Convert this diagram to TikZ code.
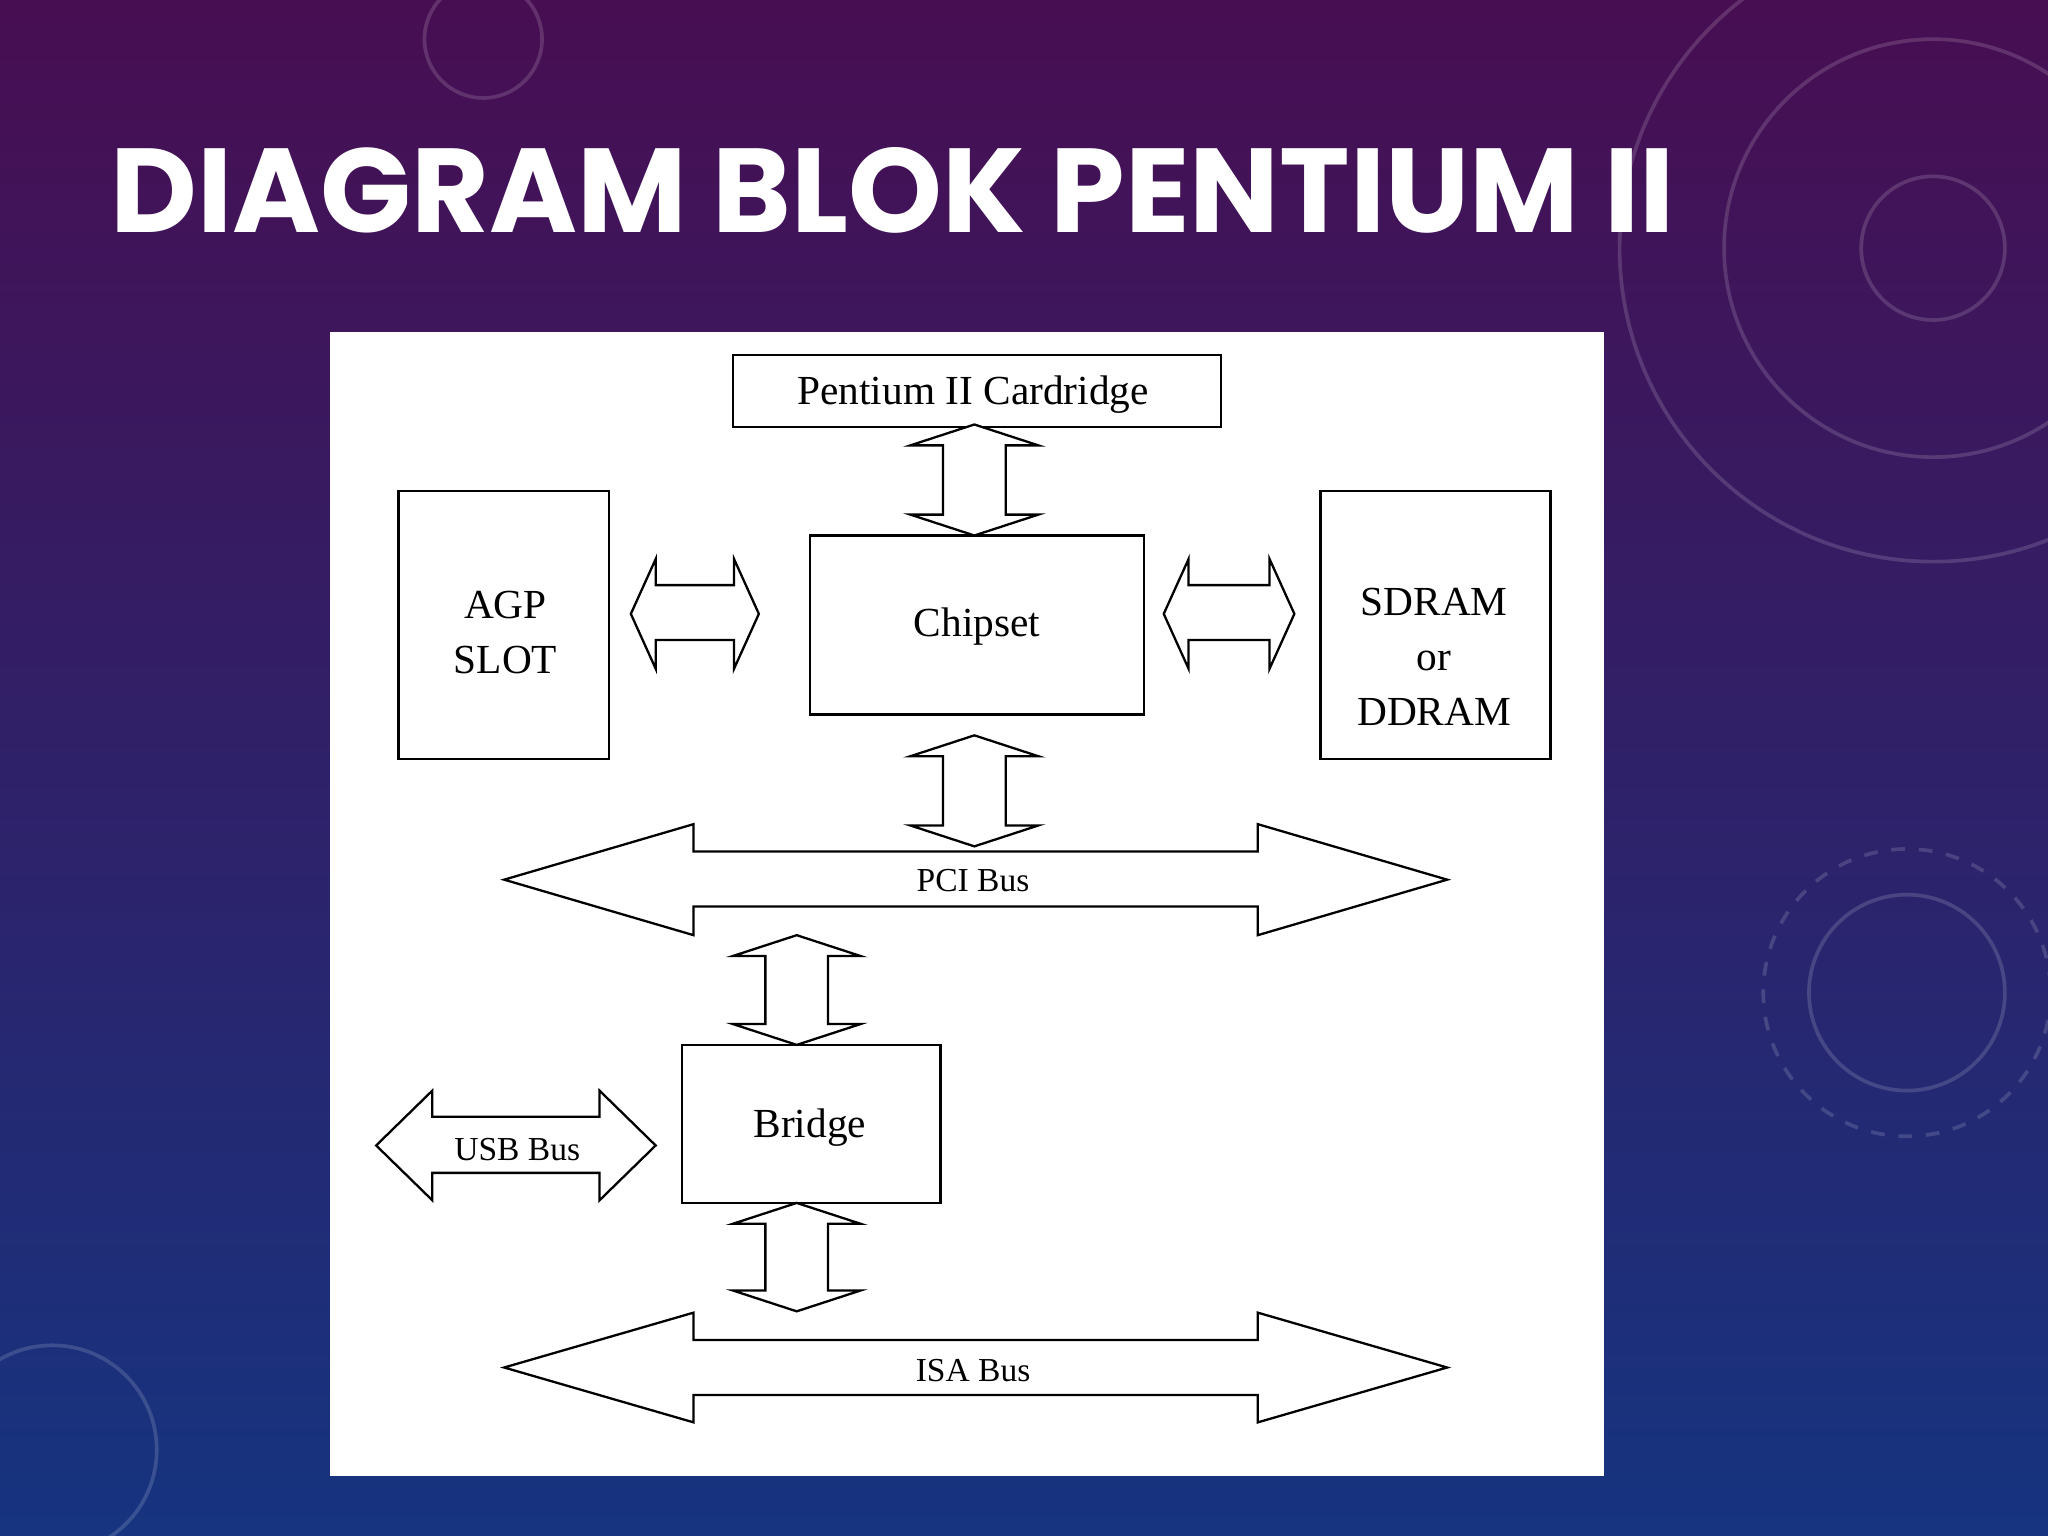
\documentclass[tikz,border=0pt]{standalone}
\usepackage{fontspec}
\setmainfont{Liberation Serif}
\newfontfamily\titlefont{Poppins}
\begin{document}
\newcommand{\dblH}[8]{% name,x1,x2,ytop,ybot,s1,s2,h
 \draw[arr] (#2,{(#4+#5)/2}) -- (#2+#8,#4) -- (#2+#8,#6) -- (#3-#8,#6) -- (#3-#8,#4) -- (#3,{(#4+#5)/2}) -- (#3-#8,#5) -- (#3-#8,#7) -- (#2+#8,#7) -- (#2+#8,#5) -- cycle;
 \coordinate (#1) at ({(#2+#3)/2},{(#4+#5)/2});}
\newcommand{\dblV}[8]{% name,y1,y2,xl,xr,s1,s2,h
 \draw[arr] ({(#4+#5)/2},#2) -- (#4,#2+#8) -- (#6,#2+#8) -- (#6,#3-#8) -- (#4,#3-#8) -- ({(#4+#5)/2},#3) -- (#5,#3-#8) -- (#7,#3-#8) -- (#7,#2+#8) -- (#5,#2+#8) -- cycle;
 \coordinate (#1) at ({(#4+#5)/2},{(#2+#3)/2});}
\begin{tikzpicture}[x=0.01cm,y=-0.01cm,
 boxt/.style={align=center,font=\fontsize{9}{12}\selectfont},
 arr/.style={draw,line width=0.5pt,fill=white,line join=miter},
 lbl/.style={font=\fontsize{7.3}{9}\selectfont}]
\useasboundingbox (0,0) rectangle (1568,1176);
\shade[top color={rgb,255:red,72;green,14;blue,82}, bottom color={rgb,255:red,22;green,52;blue,128}] (0,0) rectangle (1568,1176);
\begin{scope}[draw=white,opacity=0.15,line width=0.8pt]
 \draw (1480,190) circle (160);
 \draw (1480,190) circle (240);
 \draw (1460,760) circle (75);
 \draw[dashed] (1460,760) circle (110);
 \draw (40,1110) circle (80);
 \draw (370,30) circle (45);
 \draw (1480,190) circle (55);
\end{scope}
\node[anchor=base west,text=white,inner sep=0pt,font=\titlefont\bfseries\fontsize{26}{30}\selectfont] (title) at (84,178) {DIAGRAM BLOK PENTIUM II};
\fill[white] (253,254) rectangle (1228,1130);
\draw[line width=0.5pt] (561,272) rectangle (935,327);
\node[boxt] (cput) at (745,302) {Pentium II Cardridge};
\draw[line width=0.5pt] (305,376) rectangle (466,581);
\node[boxt] (agp) at (387,484) {AGP\\SLOT};
\draw[line width=0.5pt] (620,410) rectangle (876,547);
\node[boxt] (chip) at (748,480) {Chipset};
\draw[line width=0.5pt] (1011,376) rectangle (1187,581);
\node[boxt] (sdram) at (1098,503) {SDRAM\\or\\DDRAM};
\draw[line width=0.5pt] (522,800) rectangle (720,921);
\node[boxt] (bridge) at (620,863) {Bridge};
\dblV{a1}{325}{410}{697}{795}{722}{770}{16}
\dblH{a2}{483}{581}{428}{512}{448}{490}{19}
\dblH{a3}{891}{991}{428}{512}{448}{490}{19}
\dblV{a4}{563}{648}{697}{795}{722}{770}{16}
\dblH{pci}{386}{1108}{631}{716}{652}{694}{145}
\node[lbl] (pcit) at (745,674) {PCI Bus};
\dblV{a5}{716}{800}{561}{659}{586}{634}{16}
\dblH{usb}{288}{502}{835}{919}{855}{898}{43}
\node[lbl] (usbt) at (396,880) {USB Bus};
\dblV{a6}{921}{1004}{561}{659}{586}{634}{16}
\dblH{isa}{386}{1108}{1005}{1089}{1026}{1068}{145}
\node[lbl] (isat) at (745,1049) {ISA Bus};
\end{tikzpicture}
\end{document}
